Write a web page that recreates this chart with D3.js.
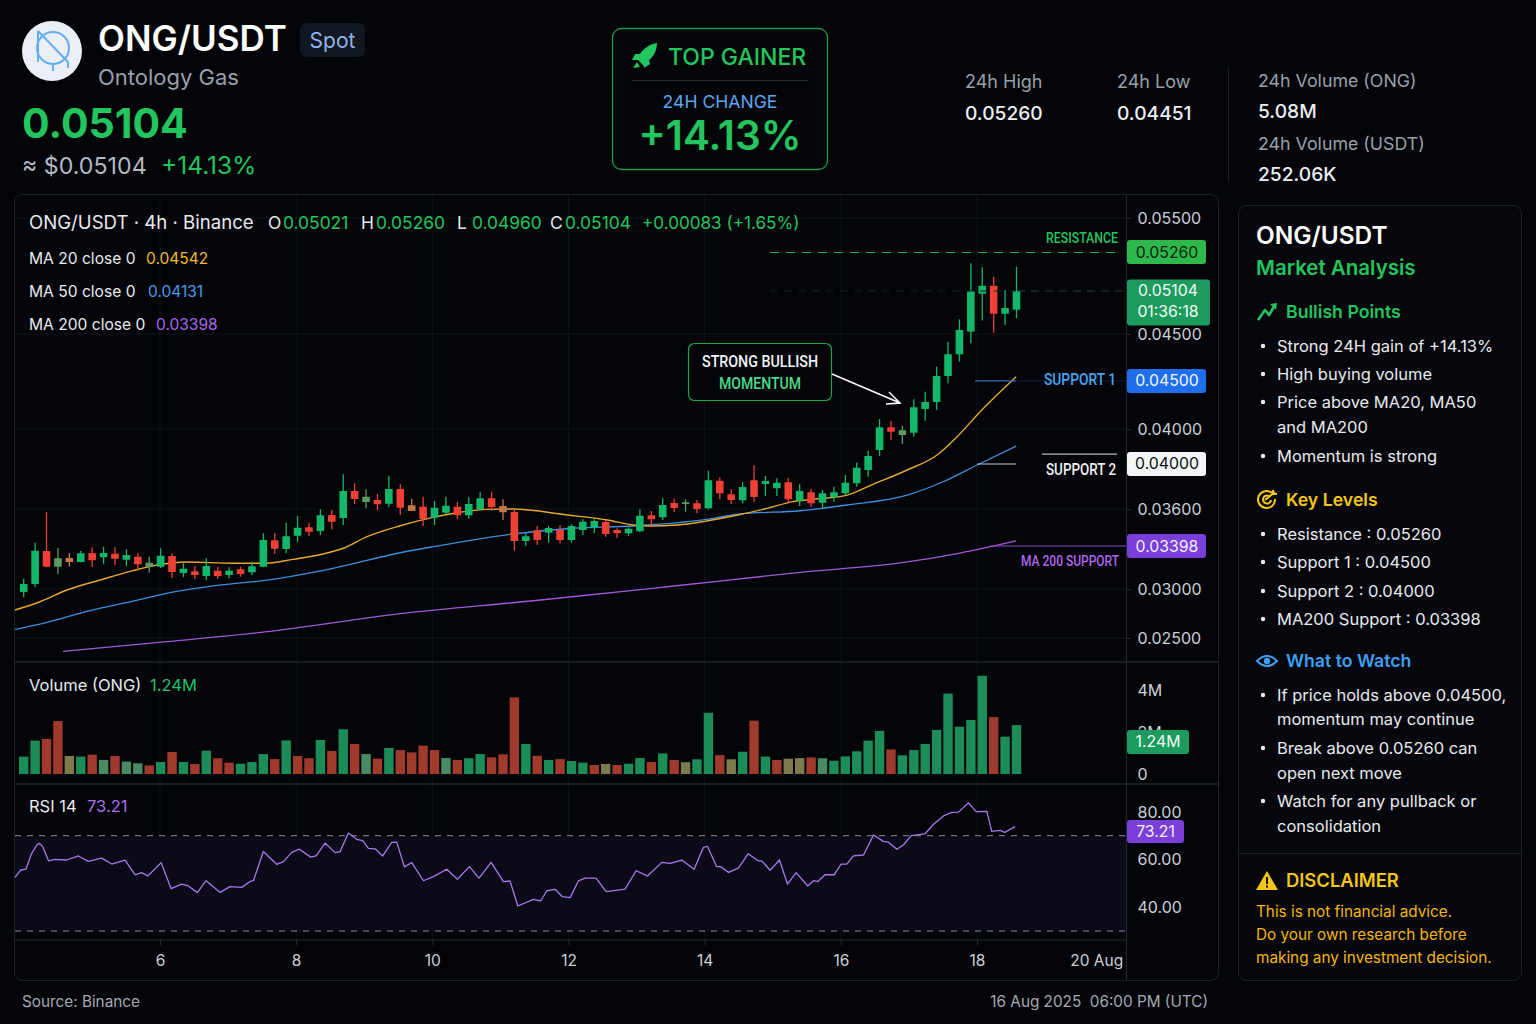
<!DOCTYPE html>
<html>
<head>
<meta charset="utf-8">
<script src="https://cdn.jsdelivr.net/npm/d3@7"></script>
<style>
html,body{margin:0;padding:0;background:#030509;width:1536px;height:1024px;overflow:hidden}
svg{display:block;font-family:Inter,Roboto,"Noto Sans",sans-serif}
</style>
</head>
<body>
<svg id="c" width="1536" height="1024" viewBox="0 0 1536 1024"></svg>
<script>
// ---- values, in units of 0.00001 USDT, candle index = 4h steps from 4 Aug ----
const opens=[2829,2886,3121,3009,3071,3043,3107,3076,3102,3059,3081,3009,3009,3086,2964,2976,2943,2981,2950,2991,2969,3009,3198,3136,3231,3291,3264,3379,3357,3550,3471,3486,3459,3564,3448,3438,3359,3395,3438,3376,3419,3498,3443,3400,3193,3269,3252,3271,3200,3271,3291,3329,3271,3248,3262,3376,3362,3464,3457,3462,3426,3624,3526,3484,3626,3600,3569,3612,3481,3541,3466,3507,3534,3605,3700,3843,4005,3950,3966,4136,4186,4371,4526,4688,4959,5016,4816,4845];
const highs=[2924,3181,3400,3143,3107,3121,3148,3152,3148,3134,3109,3081,3141,3105,3034,3014,3069,3009,3005,3009,3045,3248,3248,3324,3371,3324,3419,3414,3669,3605,3562,3529,3659,3598,3495,3509,3479,3509,3471,3505,3541,3545,3491,3419,3248,3300,3300,3307,3312,3348,3348,3343,3284,3291,3419,3407,3498,3495,3491,3486,3695,3648,3562,3612,3734,3657,3641,3645,3598,3562,3557,3581,3664,3752,3838,4064,4052,4016,4205,4259,4438,4616,4776,5176,5148,5081,4986,5152];
const lows=[2791,2862,3005,2957,3009,3041,3009,3029,3021,3014,2981,2966,3000,2926,2934,2919,2914,2924,2926,2938,2950,3005,3100,3105,3188,3229,3236,3276,3307,3457,3426,3414,3434,3379,3407,3300,3307,3386,3348,3352,3409,3409,3343,3124,3157,3164,3181,3176,3181,3236,3248,3224,3212,3229,3257,3307,3343,3400,3402,3391,3419,3491,3457,3462,3471,3514,3514,3462,3443,3434,3426,3474,3521,3581,3652,3800,3914,3886,3938,4052,4129,4319,4474,4605,4767,4681,4736,4784];
const closes=[2886,3124,3009,3069,3043,3105,3055,3107,3066,3093,3026,3038,3088,2971,2995,2950,3014,2943,2981,2957,3012,3200,3138,3226,3288,3259,3376,3331,3550,3493,3509,3455,3564,3431,3407,3350,3431,3445,3376,3457,3498,3436,3398,3193,3226,3200,3286,3200,3300,3331,3336,3243,3248,3281,3374,3348,3450,3429,3469,3421,3626,3534,3486,3579,3507,3621,3609,3491,3550,3462,3534,3541,3609,3716,3800,4005,3974,3984,4148,4186,4371,4526,4700,4976,5016,4816,4857,4979];
const mutedCandles=[3,4,11,30,34,42,58,77];

const volumes=[0.83,1.59,1.67,2.52,0.86,0.83,0.92,0.67,0.86,0.59,0.51,0.41,0.57,1.05,0.57,0.48,1.11,0.75,0.54,0.49,0.57,0.95,0.71,1.6,0.86,0.75,1.62,1.1,2.13,1.43,0.95,0.73,1.24,1.14,1.03,1.35,1.14,0.76,0.67,0.75,0.95,0.79,0.94,3.65,1.43,0.87,0.67,0.71,0.62,0.54,0.43,0.48,0.43,0.49,0.76,0.57,0.98,0.67,0.56,0.7,2.92,0.9,0.7,1.06,2.54,0.83,0.67,0.73,0.76,0.79,0.75,0.63,0.84,1.08,1.59,2.05,1.17,0.89,1.14,1.43,2.1,3.83,2.25,2.57,4.68,2.71,1.78,2.33];
const volumeKinds="g g r r n g r s r s s r g r g r g r r g g g r g r r g r g r s r g r r r r s r g g r r r g r g r g g r n r g g r g r n g g r n g r g r n n r s g g g g g r g g g g g g g g r g g".split(" ");

const ma20Idx=[-0.76,1.43,3.79,6.69,9.58,11.68,14.31,18.34,21.32,23.6,26.23,28,30.09,33,35.87,37.97,40.6,42.88,47.61,51.12,53.4,54.89,57.26,59.54,62.16,65.14,67.42,69.17,72.15,74.43,77.42,80.04,81.8,83.81,86.97];
const ma20Val=[2700,2759,2843,2914,2981,3021,3043,3034,3034,3062,3100,3141,3224,3302,3362,3395,3419,3421,3379,3343,3307,3300,3307,3331,3371,3426,3474,3491,3521,3598,3700,3807,3938,4116,4366];
const ma50Idx=[-0.76,1.69,5.81,9.58,12.82,16.94,21.32,27.11,33,35.87,42.88,48.14,53.4,59.54,62.78,68.04,72.15,77.42,80.57,83.55,86.97];
const ma50Val=[2562,2605,2695,2764,2824,2876,2914,2998,3109,3152,3243,3284,3300,3343,3386,3409,3450,3521,3616,3736,3871];
const ma200Idx=[3.44,12.56,21.32,33,44.66,56.38,68.04,76.8,82.06,86.97];
const ma200Val=[2405,2474,2545,2674,2766,2866,2969,3036,3107,3193];

const rsiIdx=[-0.76,-0.26,0.2,0.7,1.14,1.37,1.67,2.19,2.75,3.77,4.79,5.67,6.84,7.71,8.88,9.76,10.34,10.87,12.04,12.91,13.85,14.43,15.22,15.98,17.21,18.08,19.11,19.84,20.13,21,22.17,22.76,23.49,24.13,25.15,25.62,26.41,27.29,27.72,28.45,29.18,29.71,30.21,30.79,31.46,32.25,32.69,33.36,34,35.03,35.9,37.07,38,39.06,39.9,40.96,42.04,42.62,43.3,44.67,45.3,45.84,46.57,47.2,47.88,48.61,49.2,50.16,51.04,52.7,53.67,54.66,55.92,56.65,57.67,58.75,59.56,59.92,60.73,61.08,61.76,62.63,63.48,64.39,64.68,65.41,66.23,66.93,67.69,68.71,69.21,69.56,70.23,71.02,71.63,72.13,72.71,73.59,74.47,75.34,75.78,76.51,77.09,77.77,78.99,79.73,80.6,81.33,81.92,82.8,83.46,84.4,84.83,85.57,85.98,86.88];
const rsiVal=[52.5,55.6,56,62.6,66.1,66.8,65.4,59.4,60.1,59.8,61.5,59.2,60.6,58.1,59.7,53.6,54.5,53.1,58.7,47.8,49.7,48.9,46.1,51.1,46.2,48.6,48.3,50.8,51.1,63.4,58,59.1,63,64.4,61,61.5,66.9,62.9,63.3,71.1,68.5,67.9,64.7,64.5,61.5,67.2,67.3,56.9,58.7,51.1,52.8,55.9,51.7,57,52.2,58.8,50.7,51,40.5,43.3,42.6,46.9,47.5,44.4,44,51,52.2,52.2,46.5,47.6,55.3,53.1,58.8,58.4,59.8,55.9,65.1,65.5,57,57,54.6,56.4,62.4,59.4,59.4,55.5,59.8,49.7,54.5,48.9,51.1,50.7,53.6,53.6,58.1,58.1,61.5,61.9,70.3,67.6,67.3,64.3,66.1,70,70.8,74.8,78.3,79.8,79.9,83.8,80.1,80.2,71.8,72.2,71.4,73.8];

const priceTickLabels=["0.05500","0.04500","0.04000","0.03600","0.03000","0.02500"];
const priceTickLevels=[5500,4671,3993,3421,2850,2500];
const volumeTickLabels=["4M","2M","0"];
const volumeTickLevels=[4,2,0];
const rsiTickLevels=[80,60,40];
const dayTicks=[6,8,10,12,14,16,18,20];

const badgeLabels=["0.05260","0.04500","0.04000","0.03398"];
const badgeLevels=[5257,4336,3743,3157];
const closeLevel=4979, support2LineLevel=3814, support2MaLevel=3743;

// ---- scales ----
const svg=d3.select("#c");
const x=d3.scaleLinear().domain([0,87]).range([23.7,1016.5]);
const xDay=d3.scaleLinear().domain([6,18]).range([160,977]);
const y=d3.scaleLinear().domain([2500,5500]).range([638,218]);
const yVol=d3.scaleLinear().domain([0,4]).range([774,690]);
const yRsi=d3.scaleLinear().domain([70,30]).range([835.7,931]);

const FG="#d6d9de", GRAY="#9aa0a8", GREEN="#22c55e", CGREEN="#12b76a", CRED="#ee4035", BLUE="#3f9ff2", YEL="#f5c518", PUR="#a970e8";

function T(x,y,s,o={}){
  const e=svg.append("text").attr("x",x).attr("y",y).text(s)
    .attr("font-size",o.size||16).attr("font-weight",o.weight||400).attr("fill",o.fill||FG)
    .attr("text-anchor",o.anchor||"start");
  if(o.family)e.attr("font-family",o.family);
  if(o.len)e.attr("textLength",o.len).attr("lengthAdjust","spacingAndGlyphs");
  return e;
}
function R(x,y,w,h,r,fill,stroke,sw){
  return svg.append("rect").attr("x",x).attr("y",y).attr("width",w).attr("height",h).attr("rx",r)
    .attr("fill",fill||"none").attr("stroke",stroke||"none").attr("stroke-width",sw||1);
}
function L(x1,y1,x2,y2,c,w,dash){
  const e=svg.append("line").attr("x1",x1).attr("y1",y1).attr("x2",x2).attr("y2",y2).attr("stroke",c).attr("stroke-width",w||1);
  if(dash)e.attr("stroke-dasharray",dash);
  return e;
}

// ---- header ----
svg.append("circle").attr("cx",52).attr("cy",51).attr("r",30).attr("fill","#e9eff5");
const logo=svg.append("g").attr("fill","none").attr("stroke","#66aef0").attr("stroke-width",2);
logo.append("circle").attr("cx",53).attr("cy",48).attr("r",16);
logo.append("path").attr("d","M38 31 L38 62 M38 31 L68 62 M53 64 L53 71 M68 62 L68 68");
T(98,51,"ONG/USDT",{size:35,weight:600,fill:"#fff"});
R(300,23,65,34,7,"#121821");
T(332.5,48,"Spot",{size:21,fill:"#8fb3e6",anchor:"middle"});
T(98,85,"Ontology Gas",{size:22,fill:GRAY});
T(22,138,"0.05104",{size:41,weight:700,fill:GREEN});
T(22,174,"≈ $0.05104",{size:23.2,fill:"#b4b9c0"});
T(161,174,"+14.13%",{size:24.5,fill:GREEN});

R(612.5,28.5,215,141,9,"#030509",GREEN,1.3).attr("stroke-opacity",.8);
svg.append("path").attr("fill",GREEN).attr("d","M657 43 C650 44 644 48 640 54 L635 54 L632 60 L638 60 L644 66 L644 68 L650 64 L649 60 C654 56 657 50 657 43 Z M637 62 L633 68 L640 67 Z");
T(668,65,"TOP GAINER",{size:23,weight:500,fill:GREEN});
L(632,80.5,808,80.5,"#1f2a2a",1);
T(720,108,"24H CHANGE",{size:17.6,fill:"#5fa5ee",anchor:"middle"});
T(720,150,"+14.13%",{size:40.5,weight:600,fill:GREEN,anchor:"middle"});

T(965,88,"24h High",{size:18,fill:GRAY});
T(965,120,"0.05260",{size:19.2,weight:500,fill:"#eceef1"});
T(1117,88,"24h Low",{size:18,fill:GRAY});
T(1117,120,"0.04451",{size:19.2,weight:500,fill:"#eceef1"});
L(1228.5,68,1228.5,182,"#1b2027",1);
T(1258,87,"24h Volume (ONG)",{size:17.8,fill:GRAY});
T(1258,118,"5.08M",{size:19.2,weight:500,fill:"#eceef1"});
T(1258,150,"24h Volume (USDT)",{size:17.8,fill:GRAY});
T(1258,181,"252.06K",{size:19.2,weight:500,fill:"#eceef1"});

// ---- chart panel ----
R(14.5,194.5,1204,786,8,"#030509","#1d2229",1);
// faint grid
const grid=svg.append("g").attr("stroke","#0e1217").attr("stroke-width",1);
priceTickLevels.forEach(v=>grid.append("line").attr("x1",15).attr("x2",1126).attr("y1",y(v)).attr("y2",y(v)));
dayTicks.slice(0,-1).forEach(d=>grid.append("line").attr("x1",xDay(d)).attr("x2",xDay(d)).attr("y1",195).attr("y2",940));

// RSI band
svg.append("rect").attr("x",15).attr("width",1111).attr("y",yRsi(70)).attr("height",yRsi(30)-yRsi(70)).attr("fill","#0b0a18");

L(14.5,662,1218,662,"#22262c",1.3);
L(14.5,784,1218,784,"#22262c",1.3);
L(14.5,940,1126,940,"#22262c",1);
L(1126.5,195,1126.5,980,"#22262c",1.2);

// MA lines
const lineFn=d3.line().x(d=>x(d[0])).y(d=>y(d[1])).curve(d3.curveMonotoneX);
[[ma200Idx,ma200Val,"#a259d9",1.3],[ma50Idx,ma50Val,"#3d8fdc",1.3],[ma20Idx,ma20Val,"#e8a92c",1.4]].forEach(([a,b,c,w])=>{
  svg.append("path").datum(d3.zip(a,b)).attr("d",lineFn).attr("fill","none").attr("stroke",c).attr("stroke-width",w);
});

// candles
const candleColor=i=>{
  if(mutedCandles.includes(i))return closes[i]>=opens[i]?"#5f9a62":"#c0794a";
  return closes[i]>=opens[i]?CGREEN:CRED;
};
const cg=svg.append("g").selectAll("g").data(d3.range(opens.length)).join("g");
cg.append("line").attr("x1",x).attr("x2",x).attr("y1",i=>y(highs[i])).attr("y2",i=>y(lows[i])).attr("stroke",candleColor).attr("stroke-width",1.3);
cg.append("rect").attr("x",i=>x(i)-3.8).attr("width",7.6).attr("y",i=>y(Math.max(opens[i],closes[i])))
  .attr("height",i=>Math.max(1.5,Math.abs(y(opens[i])-y(closes[i])))).attr("rx",.6).attr("fill",candleColor);

// level lines
L(770,y(badgeLevels[0])+.5,1118,y(badgeLevels[0])+.5,"#22a84a",1.2,"9 7");
L(1017,y(closeLevel),1126,y(closeLevel),"#1f4a35",1,"8 6");
L(770,y(closeLevel),1017,y(closeLevel),"#12261c",1,"8 6");
L(975,y(badgeLevels[1]),1016,y(badgeLevels[1]),"#2f6fc0",1.3);
L(1016,y(badgeLevels[1]),1126,y(badgeLevels[1]),"#11233a",1);
L(1042,y(support2LineLevel),1117,y(support2LineLevel),"#b8bcc2",1.2);
L(977,y(support2MaLevel),1016,y(support2MaLevel),"#c8ccd0",1.1);
L(990,y(badgeLevels[3]),1126,y(badgeLevels[3]),"#8a4cc4",1.2);

const NARROW="Roboto,Inter,sans-serif";
T(1046,243,"RESISTANCE",{size:15,weight:500,fill:GREEN,family:NARROW,len:72});
T(1044,385,"SUPPORT 1",{size:16.5,weight:500,fill:"#4aa3f0",family:NARROW,len:72});
T(1046,475,"SUPPORT 2",{size:16.5,weight:500,fill:"#eef0f2",family:NARROW,len:70});
T(1021,566,"MA 200 SUPPORT",{size:15,weight:500,fill:"#b066ee",family:NARROW,len:98});

// callout
R(688.5,343.5,143,57,6,"#030509",GREEN,1.2).attr("stroke-opacity",.85);
T(760,367,"STRONG BULLISH",{size:16.5,weight:500,fill:"#f2f4f5",anchor:"middle",family:NARROW,len:116});
T(760,389,"MOMENTUM",{size:16.5,weight:500,fill:"#4cd98a",anchor:"middle",family:NARROW,len:82});
svg.append("path").attr("fill","none").attr("stroke","#fff").attr("stroke-width",1.5)
  .attr("d","M832 374 L900 403 M889 392 L900 403 L886 404");

// chart header
T(29,229,"ONG/USDT · 4h · Binance",{size:18.6,fill:"#e8eaed"});
const ohlcLabels=["O","H","L","C"], ohlcVals=["0.05021","0.05260","0.04960","0.05104"], ohlcX=[268,361,457,550];
ohlcLabels.forEach((l,i)=>{
  T(ohlcX[i],229,l,{size:17.4,fill:"#e8eaed"});
  T(ohlcX[i]+15,229,ohlcVals[i],{size:17.4,fill:GREEN});
});
T(642,229,"+0.00083 (+1.65%)",{size:17.1,fill:GREEN});
T(29,264,"MA 20 close 0",{size:15.6,fill:"#e8eaed"});
T(146,264,"0.04542",{size:15.5,fill:"#f2b92e"});
T(29,297,"MA 50 close 0",{size:15.6,fill:"#e8eaed"});
T(148,297,"0.04131",{size:15.5,fill:"#4a9be8"});
T(29,330,"MA 200 close 0",{size:15.6,fill:"#e8eaed"});
T(156,330,"0.03398",{size:15.5,fill:"#a866e8"});

// price axis
const styleAxis=g=>{g.select(".domain").remove();g.selectAll("line").attr("stroke","#2a2f36");
  g.selectAll("text").attr("fill","#ccd0d5").attr("font-size",16).attr("font-family","Inter,sans-serif");};
svg.append("g").attr("transform","translate(1126.5,0)").call(d3.axisRight(y).tickValues(priceTickLevels).tickSize(4).tickPadding(7)
  .tickFormat((d,i)=>priceTickLabels[i])).call(styleAxis);

// volume
T(29,691,"Volume (ONG)",{size:16.5,fill:"#e8eaed"});
T(150,691,"1.24M",{size:16.5,fill:"#1fc06e"});
const volColor={g:"#1c8c58",r:"#a03a2c",n:"#7d7a4e",s:"#4a8a62"};
svg.append("g").selectAll("rect").data(volumes).join("rect")
  .attr("x",(d,i)=>x(i)-4.7).attr("width",9.4).attr("y",d=>yVol(d)).attr("height",d=>yVol(0)-yVol(d))
  .attr("fill",(d,i)=>volColor[volumeKinds[i]]);
svg.append("g").attr("transform","translate(1126.5,0)").call(d3.axisRight(yVol).tickValues(volumeTickLevels).tickSize(0).tickPadding(11)
  .tickFormat((d,i)=>volumeTickLabels[i])).call(styleAxis);

// RSI
T(29,812,"RSI 14",{size:16.5,fill:"#e8eaed"});
T(87,812,"73.21",{size:16.5,fill:PUR});
[70,30].forEach(v=>L(15,yRsi(v),1126,yRsi(v),"#8f8f9c",1,"6 6"));
svg.append("path").datum(d3.zip(rsiIdx,rsiVal)).attr("fill","none").attr("stroke","#a878ea").attr("stroke-width",1.3).attr("stroke-linejoin","round")
  .attr("d",d3.line().x(d=>x(d[0])).y(d=>yRsi(d[1])));
svg.append("g").attr("transform","translate(1126.5,0)").call(d3.axisRight(yRsi).tickValues(rsiTickLevels).tickSize(0).tickPadding(11)
  .tickFormat(d=>d.toFixed(2))).call(styleAxis);

// x axis
const xa=svg.append("g").attr("transform","translate(0,940)").call(d3.axisBottom(xDay).tickValues(dayTicks).tickSize(5).tickPadding(10)
  .tickFormat(d=>d===20?"20 Aug":String(d))).call(styleAxis);
xa.selectAll("text").attr("font-size",15.5);
xa.selectAll(".tick").filter(d=>d===20).select("text").attr("dx",-17);
xa.selectAll(".tick").filter(d=>d===20).select("line").remove();

// badges
function badge(yc,h,w,fill){
  return R(1127,yc-h/2,w,h,3,fill);
}
const badgeFills=["#2fb84c","#1f6fec","#f4f5f6","#7a3fd8"], badgeText=["#07240f","#f2f6ff","#0a0c10","#f3eefe"];
badgeLabels.forEach((l,i)=>{
  const yc=y(badgeLevels[i]);
  badge(yc,24,79,badgeFills[i]);
  T(1167,yc+5.5,l,{size:15.8,fill:badgeText[i],anchor:"middle"});
});
badge(y(closeLevel)+11.5,46,83,"#1d9b5f");
T(1168,y(closeLevel)+5.5,"0.05104",{size:15.8,fill:"#f2fbf6",anchor:"middle"});
T(1168,y(closeLevel)+26.5,"01:36:18",{size:15.8,fill:"#f2fbf6",anchor:"middle"});
badge(yVol(1.24)-6,24,62,"#1d9b5f");
T(1158,yVol(1.24)-0.5,"1.24M",{size:15.8,fill:"#f2fbf6",anchor:"middle"});
badge(yRsi(73.21)+3.5,23,57,"#7a3fd8");
T(1155.5,yRsi(73.21)+9,"73.21",{size:15.8,fill:"#f3eefe",anchor:"middle"});

// footer
T(22,1007,"Source: Binance",{size:15.3,fill:"#a4a9b0"});
T(1208,1007,"16 Aug 2025  06:00 PM (UTC)",{size:15.3,fill:"#a4a9b0",anchor:"end"}).style("white-space","pre");

// ---- right panel ----
R(1238.5,205.5,283,775,8,"#05070c","#1d2229",1);
T(1256,244,"ONG/USDT",{size:24.4,weight:600,fill:"#fff"});
T(1256,275,"Market Analysis",{size:20.5,weight:600,fill:GREEN});

function section(yb,title,color,items){
  T(1286,yb,title,{size:17.7,weight:600,fill:color});
  items.forEach(([yy,s,bullet])=>{
    if(bullet!==false)svg.append("circle").attr("cx",1263).attr("cy",yy-6).attr("r",2.2).attr("fill","#e8eaed");
    T(1277,yy,s,{size:16.5,fill:"#e8eaed"});
  });
}
section(318,"Bullish Points",GREEN,[[352,"Strong 24H gain of +14.13%"],[380,"High buying volume"],[408,"Price above MA20, MA50"],[433,"and MA200",false],[462,"Momentum is strong"]]);
section(506,"Key Levels",YEL,[[540,"Resistance : 0.05260"],[568,"Support 1 : 0.04500"],[597,"Support 2 : 0.04000"],[625,"MA200 Support : 0.03398"]]);
section(667,"What to Watch",BLUE,[[701,"If price holds above 0.04500,"],[725,"momentum may continue",false],[754,"Break above 0.05260 can"],[779,"open next move",false],[807,"Watch for any pullback or"],[832,"consolidation",false]]);
L(1239,853.5,1521,853.5,"#1d2229",1);

// icons
svg.append("path").attr("fill","none").attr("stroke",GREEN).attr("stroke-width",2.6).attr("stroke-linejoin","round")
  .attr("d","M1258 320 L1265 310 L1269 315 L1275 305");
svg.append("path").attr("fill",GREEN).attr("d","M1270 304 L1277 303 L1276 310 Z");
const tgt=svg.append("g").attr("fill","none").attr("stroke",YEL).attr("stroke-width",2);
tgt.append("path").attr("d","M1272 493 A8.5 8.5 0 1 0 1275 499");
tgt.append("path").attr("d","M1269 496 A4 4 0 1 0 1271 500");
tgt.append("path").attr("d","M1265 500 L1275 492 M1273 490 L1273 494 L1277 494");
svg.append("path").attr("fill","none").attr("stroke",BLUE).attr("stroke-width",2).attr("d","M1257 661 Q1267 651 1277 661 Q1267 671 1257 661 Z");
svg.append("circle").attr("cx",1267).attr("cy",661).attr("r",3.2).attr("fill",BLUE);
svg.append("path").attr("fill",YEL).attr("d","M1267 871 L1278 890 L1256 890 Z");
svg.append("rect").attr("x",1266).attr("y",877).attr("width",2).attr("height",7).attr("fill","#05070c");
svg.append("rect").attr("x",1266).attr("y",885.5).attr("width",2).attr("height",2).attr("fill","#05070c");
T(1286,887,"DISCLAIMER",{size:18.4,weight:600,fill:YEL});
["This is not financial advice.","Do your own research before","making any investment decision."].forEach((s,i)=>{
  T(1256,[917,940,963][i],s,{size:15.3,fill:"#f5b50e"});
});
</script>
</body>
</html>
